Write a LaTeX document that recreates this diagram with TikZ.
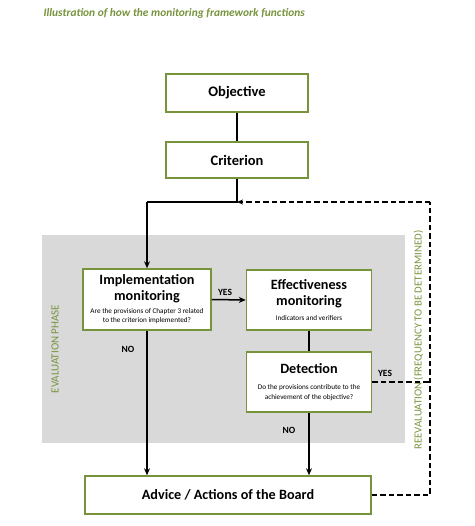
\documentclass[tikz,border=0pt]{standalone}
\usepackage{fontspec}
\setmainfont{Carlito}
\usetikzlibrary{arrows.meta}
\definecolor{olivegreen}{HTML}{77933C}
\definecolor{phasegray}{HTML}{D9D9D9}
\tikzset{
  box/.style={draw=olivegreen, line width=1.5pt, fill=white, align=center, inner sep=1pt},
  headbox/.style={box, font=\fontsize{14.2}{16}\selectfont\bfseries},
  link/.style={line width=1.5pt},
  arrowlink/.style={link, -{Stealth[length=7pt,width=6pt]}},
  backlink/.style={line width=1.5pt, dash pattern=on 5.5pt off 3pt},
  answer/.style={font=\fontsize{9.5}{11}\selectfont\bfseries},
  phase/.style={text=olivegreen, font=\fontsize{10.8}{12}\selectfont, rotate=90},
}
\newcommand{\subfont}{\fontsize{7.2}{9.2}\selectfont\mdseries}
\begin{document}
\begin{tikzpicture}[x=1pt,y=-1pt]
      \useasboundingbox (0,0) rectangle (474,526);
      \fill[phasegray] (42,235) rectangle (405,443);

      \node (TitleN) [anchor=west, text=olivegreen,
                      font=\fontsize{11.4}{13}\selectfont\bfseries\itshape] at (40,13)
                      {Illustration of how the monitoring framework functions};

      \node (ObjN)    [headbox, minimum width=142pt, minimum height=38pt,
                       font=\fontsize{14.5}{16}\selectfont\bfseries] at (237,93)  {Objective};
      \node (CritN)   [headbox, minimum width=142pt, minimum height=36pt,
                       font=\fontsize{14.5}{16}\selectfont\bfseries] at (237,160) {Criterion};

      \node (ImplN)   [headbox, minimum width=128pt, minimum height=61pt] at (147,299.5)
                      {Implementation\\monitoring\\[-3pt]\subfont Are the provisions of Chapter 3 related\\[-7pt]\subfont to the criterion implemented?};
      \node (EffN)    [headbox, minimum width=125pt, minimum height=60pt] at (309,300)
                      {Effectiveness\\monitoring\\[-1pt]\subfont Indicators and verifiers};
      \node (DetN)    [headbox, minimum width=125pt, minimum height=60pt] at (309,382)
                      {Detection\\\subfont Do the provisions contribute to the\\[-6pt]\subfont achievement of the objective?};

      \node (AdviceN) [headbox, minimum width=286pt, minimum height=38pt] at (228,495)
                      {Advice / Actions of the Board};

      \node (EvalN)   [phase, font=\fontsize{11}{12}\selectfont] at (55,349)
                      {EVALUATION PHASE};
      \node (ReevalN) [phase] at (418.5,340)
                      {REEVALUATION (FREQUENCY TO BE DETERMINED)};

      \node (yesImpl) [answer] at (225,292) {YES};
      \node (noImpl)  [answer] at (128,349) {NO};
      \node (yesDet)  [answer] at (385,373) {YES};
      \node (noDet)   [answer] at (289,430) {NO};

      \coordinate (joinC)   at (237,202);
      \coordinate (leftC)   at (147,202);
      \coordinate (topR)    at (430,202);
      \coordinate (bottomR) at (430,495);
      \coordinate (midR)    at (430,382);

      \draw [link]      (ObjN.south)  -- (CritN.north);
      \draw [link]      (CritN.south) -- (joinC) -- (leftC);
      \draw [arrowlink] (leftC)       -- (ImplN.north);
      \draw [arrowlink] (ImplN.east)  -- (EffN.west);
      \draw [link]      (EffN.south)  -- (DetN.north);

      \draw [arrowlink] (ImplN.south) -- (ImplN.south |- AdviceN.north);
      \draw [arrowlink] (DetN.south)  -- (DetN.south |- AdviceN.north);

      \draw [backlink]  (AdviceN.east) -- (bottomR) -- (topR);
      \draw [backlink, -{Stealth[length=6pt,width=5pt]}] (topR) -- (joinC);
      \draw [backlink]  (DetN.east |- midR) -- (midR);
    \end{tikzpicture}
\end{document}
